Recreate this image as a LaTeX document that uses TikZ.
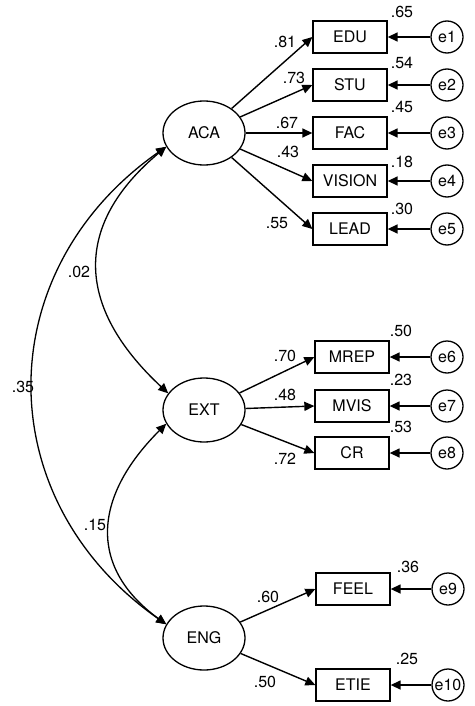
\documentclass[tikz,border=0pt]{standalone}
\usepackage{fontspec}
\setmainfont{TeX Gyre Heros}
\usepackage{tikz}
\usetikzlibrary{shapes,arrows.meta,positioning,calc}
\tikzset{lat/.style={draw, ellipse, minimum width=82pt, minimum height=64pt, inner sep=0pt, line width=1.3pt}}
\tikzset{obs/.style={draw, rectangle, minimum width=74pt, minimum height=32pt, inner sep=0pt, line width=1.3pt}}
\tikzset{err/.style={draw, circle, minimum size=32pt, inner sep=0pt, line width=1.3pt}}
\tikzset{arr/.style={-{Triangle[length=10pt,width=9pt]}, line width=1.4pt}}
\tikzset{cov/.style={{Triangle[length=10pt,width=9pt]}-{Triangle[length=10pt,width=9pt]}, line width=1.3pt}}
\tikzset{lbl/.style={draw=none, fill=none, inner sep=0pt}}

\begin{document}
\begin{tikzpicture}[x=1pt, y=1pt, font=\fontsize{16}{19}\selectfont]
        \useasboundingbox (0,0) rectangle (474,-706);

        %%% LATENT FACTORS %%%
        \node[lat] (aca) at (204,-133) {ACA};
        \node[lat] (ext) at (204,-410) {EXT};
        \node[lat] (eng) at (204,-638) {ENG};

        %%% INDICATORS %%%
        \node[obs] (edu) at (350,-37) {EDU};
        \node[obs] (stu) at (350,-85) {STU};
        \node[obs] (fac) at (350,-133) {FAC};
        \node[obs] (vision) at (350,-181) {VISION};
        \node[obs] (lead) at (350,-229) {LEAD};
        \node[obs] (mrep) at (352,-357) {MREP};
        \node[obs] (mvis) at (352,-406) {MVIS};
        \node[obs] (cr) at (352,-453) {CR};
        \node[obs] (feel) at (353,-589) {FEEL};
        \node[obs] (etie) at (353,-685) {ETIE};

        %%% ERRORS %%%
        \node[err] (e1) at (447,-37) {e1};
        \node[err] (e2) at (447,-85) {e2};
        \node[err] (e3) at (447,-133) {e3};
        \node[err] (e4) at (447,-181) {e4};
        \node[err] (e5) at (447,-229) {e5};
        \node[err] (e6) at (447,-357) {e6};
        \node[err] (e7) at (447,-406) {e7};
        \node[err] (e8) at (447,-453) {e8};
        \node[err] (e9) at (448,-589) {e9};
        \node[err] (e10) at (448,-685) {e10};

        %%% LOADINGS %%%
        \draw[arr] (aca) -- (edu.west);
        \draw[arr] (aca) -- (stu.west);
        \draw[arr] (aca) -- (fac.west);
        \draw[arr] (aca) -- (vision.west);
        \draw[arr] (aca) -- (lead.west);
        \draw[arr] (ext) -- (mrep.west);
        \draw[arr] (ext) -- (mvis.west);
        \draw[arr] (ext) -- (cr.west);
        \draw[arr] (eng) -- (feel.west);
        \draw[arr] (eng) -- (etie.west);

        \draw[arr] (e1) -- (edu);
        \draw[arr] (e2) -- (stu);
        \draw[arr] (e3) -- (fac);
        \draw[arr] (e4) -- (vision);
        \draw[arr] (e5) -- (lead);
        \draw[arr] (e6) -- (mrep);
        \draw[arr] (e7) -- (mvis);
        \draw[arr] (e8) -- (cr);
        \draw[arr] (e9) -- (feel);
        \draw[arr] (e10) -- (etie);

        %%% COVARIANCES %%%
        \draw[cov] (aca.200) .. controls +(215:217) and +(145:217) .. (eng.160);
        \draw[cov] (aca.200) .. controls +(220:120) and +(137:129) .. (ext.155);
        \draw[cov] (ext.200) .. controls +(225:107) and +(144:94) .. (eng.160);

        %%% WEIGHTS %%%
        \node[lbl] (w1) at (285,-42) {.81};
        \node[lbl] (w2) at (294,-78) {.73};
        \node[lbl] (w3) at (287,-123) {.67};
        \node[lbl] (w4) at (288,-152) {.43};
        \node[lbl] (w5) at (277,-223) {.55};
        \node[lbl] (w6) at (285,-356) {.70};
        \node[lbl] (w7) at (285,-395) {.48};
        \node[lbl] (w8) at (285,-459) {.72};
        \node[lbl] (w9) at (268,-597) {.60};
        \node[lbl] (w10) at (265,-682) {.50};

        %%% R SQUARED %%%
        \node[lbl] (r1) at (402,-12) {.65};
        \node[lbl] (r2) at (402,-63) {.54};
        \node[lbl] (r3) at (402,-107) {.45};
        \node[lbl] (r4) at (402,-162) {.18};
        \node[lbl] (r5) at (402,-209) {.30};
        \node[lbl] (r6) at (401,-331) {.50};
        \node[lbl] (r7) at (401,-380) {.23};
        \node[lbl] (r8) at (401,-427) {.53};
        \node[lbl] (r9) at (408,-567) {.36};
        \node[lbl] (r10) at (407,-659) {.25};

        %%% CORRELATIONS %%%
        \node[lbl] (c1) at (79,-272) {.02};
        \node[lbl] (c2) at (23,-387) {.35};
        \node[lbl] (c3) at (95,-525) {.15};
    \end{tikzpicture}
\end{document}
